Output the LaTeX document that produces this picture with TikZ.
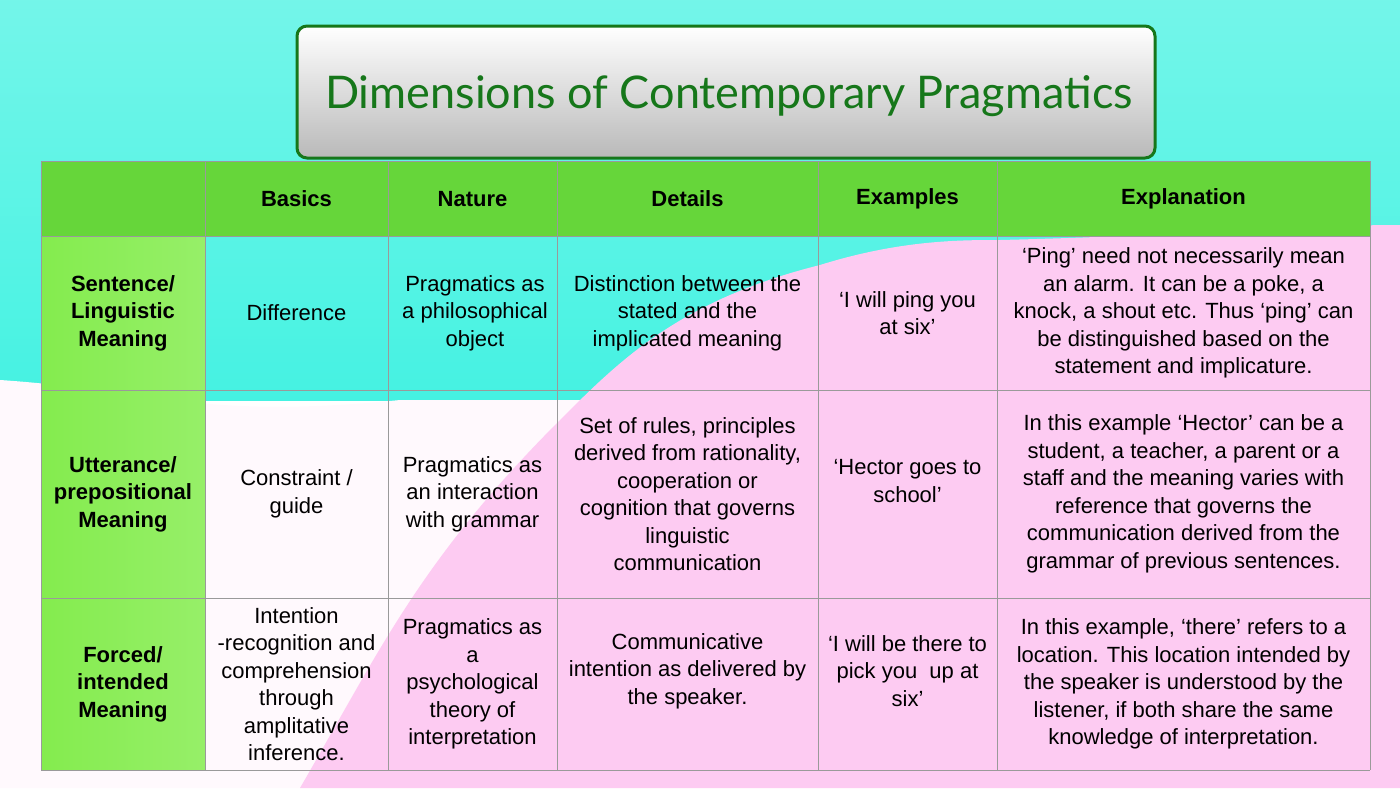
\documentclass[tikz,border=0pt]{standalone}
\usepackage{fontspec}
\setmainfont{Liberation Sans}
\newfontfamily\titlefont{Lato}
\definecolor{cyanbg}{HTML}{45F2E2}
\definecolor{pinkbg}{HTML}{FDCBF2}
\definecolor{hdr}{HTML}{66D63A}
\definecolor{col1}{HTML}{84EC4E}
\definecolor{tgreen}{HTML}{16771A}
\definecolor{grid}{HTML}{9A9A9A}
\tikzset{
 cell/.style={align=center,font=\fontsize{22}{27.5}\selectfont,inner sep=0pt},
 hcell/.style={cell,font=\fontsize{22}{27.5}\selectfont\bfseries},
}
\begin{document}
\begin{tikzpicture}[x=1pt,y=-1pt]
\useasboundingbox (0,0) rectangle (1400,788);
% background
\shade[top color=cyanbg!75!white,bottom color=cyanbg] (0,0) rectangle (1400,400);
\fill[white!88!pinkbg] (0,380) .. controls (150,390) and (200,420) .. (400,400) -- (1400,400) -- (1400,788) -- (0,788) -- cycle;
\fill[pinkbg] (300,788) .. controls (380,650) and (420,560) .. (560,420) .. controls (620,360) and (680,300) .. (820,265) .. controls (900,240) and (960,240) .. (1000,240) .. controls (1200,235) and (1300,225) .. (1400,225) -- (1400,788) -- cycle;
% title
\shade[rounded corners=10pt,top color=white,bottom color=gray!55] (297,26) rectangle (1155,158);
\draw[tgreen,line width=3pt,rounded corners=10pt] (297,26) rectangle (1155,158);
\node[text=tgreen,font=\titlefont\fontsize{45}{50}\selectfont] (title) at (729,96) {Dimensions of Contemporary Pragmatics};
% header & first column fills
\fill[hdr] (41,161) rectangle (1370,236);
\shade[left color=col1,right color=col1!85!white] (41,236) rectangle (205,770);
% grid
\foreach \x in {41,205,388,557,818,997,1370} \draw[grid] (\x,161) -- (\x,770);
\foreach \y in {161,236,390,598,770} \draw[grid] (41,\y) -- (1370,\y);
% header
\node[hcell] (h1) at (296.5,199) {Basics};
\node[hcell] (h2) at (472.5,199) {Nature};
\node[hcell] (h3) at (687.5,199) {Details};
\node[hcell] (h4) at (907.5,199) {Examples};
\node[hcell] (h5) at (1183.5,199) {Explanation};
% row labels
\node[hcell] (r1) at (123,313) {Sentence/\\Linguistic\\Meaning};
\node[hcell] (r2) at (123,494) {Utterance/\\prepositional\\Meaning};
\node[hcell] (r3) at (123,684) {Forced/\\intended\\Meaning};
% row 1
\node[cell] (a1) at (296.5,313) {Difference};
\node[cell] (b1) at (475,313) {Pragmatics as\\a philosophical\\object};
\node[cell] (c1) at (687.5,313) {Distinction between the\\stated and the\\implicated meaning};
\node[cell] (d1) at (907.5,313) {‘I will ping you\\at six’};
\node[cell] (e1) at (1183.5,313) {‘Ping’ need not necessarily mean\\an alarm. It can be a poke, a\\knock, a shout etc. Thus ‘ping’ can\\be distinguished based on the\\statement and implicature.};
% row 2
\node[cell] (a2) at (296.5,494) {Constraint /\\guide};
\node[cell] (b2) at (472.5,494) {Pragmatics as\\an interaction\\with grammar};
\node[cell] (c2) at (687.5,494) {Set of rules, principles\\derived from rationality,\\cooperation or\\cognition that governs\\linguistic\\communication};
\node[cell] (d2) at (907.5,481) {‘Hector goes to\\school’};
\node[cell] (e2) at (1183.5,494) {In this example ‘Hector’ can be a\\student, a teacher, a parent or a\\staff and the meaning varies with\\reference that governs the\\communication derived from the\\grammar of previous sentences.};
% row 3
\node[cell] (a3) at (296.5,684) {Intention\\-recognition and\\comprehension\\through\\amplitative\\inference.};
\node[cell] (b3) at (472.5,684) {Pragmatics as\\a\\psychological\\theory of\\interpretation};
\node[cell] (c3) at (687.5,671) {Communicative\\intention as delivered by\\the speaker.};
\node[cell] (d3) at (907.5,671) {‘I will be there to\\pick you \ up at\\six’};
\node[cell] (e3) at (1183.5,684) {In this example, ‘there’ refers to a\\location. This location intended by\\the speaker is understood by the\\listener, if both share the same\\knowledge of interpretation.};
\end{tikzpicture}
\end{document}
